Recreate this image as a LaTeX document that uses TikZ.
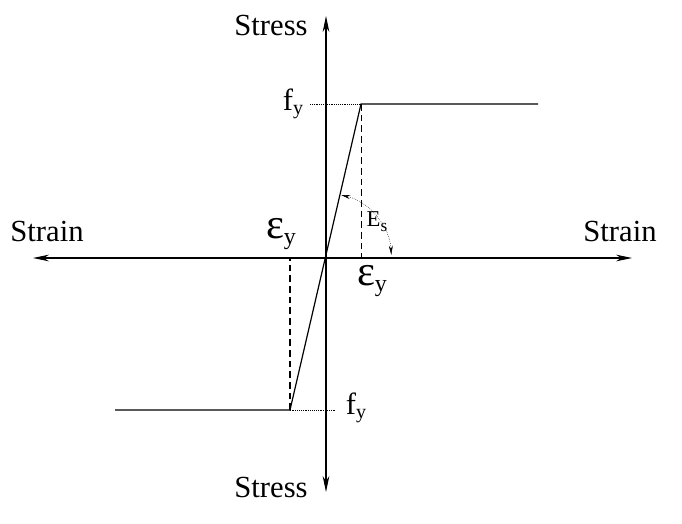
\documentclass[tikz,border=0pt]{standalone}
\usepackage{fontspec}
\setmainfont{Liberation Serif}
\usetikzlibrary{arrows.meta}
\begin{document}
\begin{tikzpicture}[x=0.75pt,y=-0.75pt,
  axis/.style={line width=0.8pt,-{Stealth[length=12pt,width=5pt]}},
  lbl/.style={font=\fontsize{23}{26}\selectfont,inner sep=0pt},
  eps/.style={font=\fontsize{32}{34}\selectfont,inner sep=0pt}]
\useasboundingbox (0,0) rectangle (682,524);
\coordinate (O) at (326,258);
\coordinate (T) at (326,16);
\coordinate (B) at (326,492);
\coordinate (L) at (33,258);
\coordinate (R) at (632,258);
\coordinate (Y1) at (361,104);
\coordinate (Y2) at (290,410);
\coordinate (P1) at (538,104);
\coordinate (P2) at (115,410);
\coordinate (X1) at (361,258);
\coordinate (X2) at (290,258);
\coordinate (F1) at (310,104);
\coordinate (F2) at (335,410);
\draw[axis] (O) -- (T);
\draw[axis] (O) -- (B);
\draw[axis] (O) -- (L);
\draw[axis] (O) -- (R);
\draw[line width=0.9pt] (P2) -- (Y2) -- (Y1) -- (P1);
\draw[dashed,dash pattern=on 5pt off 3pt] (Y1) -- (X1);
\draw[dashed,dash pattern=on 5pt off 3pt,line width=0.9pt] (Y2) -- (X2);
\draw[densely dotted] (F1) -- (Y1);
\draw[densely dotted] (F2) -- (Y2);
\draw[densely dotted,{Stealth[length=7pt,width=3pt]}-{Stealth[length=7pt,width=3pt]}] (341,195) arc[start angle=-77,end angle=-3,radius=65];
\node[lbl] (s1) at (271,26) {Stress};
\node[lbl] (s2) at (271,487) {Stress};
\node[lbl] (s3) at (47,231) {Strain};
\node[lbl] (s4) at (620,231) {Strain};
\node[lbl] (fy1) at (293,104) {f\raisebox{-0.3ex}{\fontsize{15}{16}\selectfont y}};
\node[lbl] (fy2) at (356,408) {f\raisebox{-0.3ex}{\fontsize{15}{16}\selectfont y}};
\node[eps] (e1) at (281,234) {ε\raisebox{-0.3ex}{\fontsize{18}{18}\selectfont y}};
\node[eps] (e2) at (372,281) {ε\raisebox{-0.3ex}{\fontsize{18}{18}\selectfont y}};
\node[font=\fontsize{17}{17}\selectfont,inner sep=0pt] (es) at (377,222) {E\raisebox{-0.5ex}{\fontsize{13}{13}\selectfont s}};
\end{tikzpicture}
\end{document}
